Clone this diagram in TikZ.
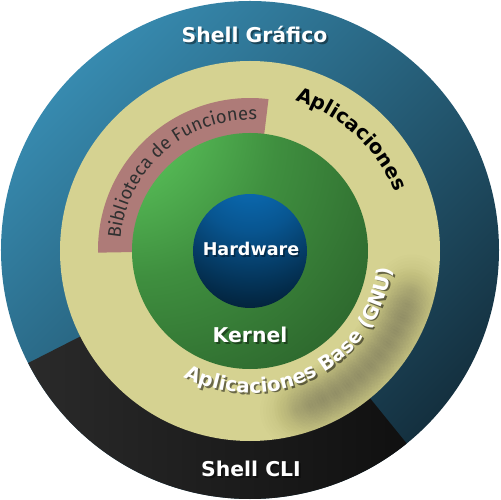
\documentclass[tikz,border=0pt]{standalone}
\usepackage{fontspec}
\setmainfont{DejaVu Sans}
\newfontfamily\bibfam{Fira Sans}
\usetikzlibrary{decorations.text}
\definecolor{blueA}{HTML}{378AAF}
\definecolor{blueB}{HTML}{14303F}
\definecolor{darkA}{HTML}{2A2A2A}
\definecolor{darkB}{HTML}{101010}
\definecolor{ring}{HTML}{D5D291}
\definecolor{band}{HTML}{AE7B78}
\definecolor{bibtext}{HTML}{303030}
\definecolor{gA}{HTML}{62D262}
\definecolor{gB}{HTML}{3F8F3F}
\definecolor{gC}{HTML}{2A602A}
\definecolor{gD}{HTML}{1A3F1A}
\definecolor{gE}{HTML}{0E1E0E}
\definecolor{hA}{HTML}{0B6FB9}
\definecolor{hB}{HTML}{085590}
\definecolor{hC}{HTML}{032A48}
\pgfdeclareradialshading{greensh}{\pgfpoint{-35bp}{35bp}}{color(0bp)=(gA); color(6bp)=(gA); color(30bp)=(gB); color(55bp)=(gC); color(75bp)=(gD); color(100bp)=(gE)}
\pgfdeclareradialshading{hwsh}{\pgfpoint{0bp}{45bp}}{color(0bp)=(hA); color(8bp)=(hA); color(25bp)=(hB); color(45bp)=(hC); color(66bp)=(black); color(100bp)=(black)}
\newcommand\fbib{\bibfam\fontsize{10.5}{12}\selectfont\color{bibtext}}
\newcommand\fap{\fontsize{11.3}{13}\selectfont\bfseries\color{black}}
\newcommand\fapb{\fontsize{11.3}{13}\selectfont\bfseries\color{white}}
\newcommand\fapbs{\fontsize{11.3}{13}\selectfont\bfseries\color{black}}
\begin{document}
\begin{tikzpicture}[x=0.02cm,y=0.02cm,
  lbl/.style={font=\fontsize{11.6}{13}\selectfont\bfseries, text=white, inner sep=0, anchor=base},
  shd/.style={font=\fontsize{11.6}{13}\selectfont\bfseries, text=black, inner sep=0, anchor=base, text opacity=0.4},
  hwlbl/.style={font=\fontsize{10}{12}\selectfont\bfseries, text=white, inner sep=0, anchor=base},
  hwshd/.style={font=\fontsize{10}{12}\selectfont\bfseries, text=black, inner sep=0, anchor=base, text opacity=0.35}]
\useasboundingbox (-250,-250) rectangle (250,250);
% outer shell
\shade[top color=blueA, bottom color=blueB, shading angle=45] (0,0) circle[radius=249];
\shade[left color=darkA, right color=darkB] (0,0) -- (207:249) arc[start angle=207, end angle=309, radius=249] -- cycle;
% applications ring
\fill[ring] (0,-1) circle[radius=190];
\fill[band] (83:152) arc[start angle=83, end angle=181, radius=152] -- (181:105) arc[start angle=181, end angle=83, radius=105] -- cycle;
% soft shadow of the curved label on the ring
\begin{scope}
\clip (0,-1) circle[radius=190];
\foreach \a in {286,291,...,346} {
  \foreach \k in {1,...,12} {
    \fill[black, opacity=0.008] (\a:167) circle[radius=3*\k];
  }
}
\end{scope}
% kernel
\shade[shading=greensh] (0,-1) circle[radius=118];
% hardware
\shade[shading=hwsh] (0,-1) circle[radius=57];
% curved texts
\path[decorate, decoration={text along path, text={|\fbib|Biblioteca de Funciones}, text align=center}]
  (185:130) arc[start angle=185, end angle=77, radius=130];
\path[decorate, decoration={text along path, text={|\fap|Aplicaciones}, text align=center}]
  (82:156) arc[start angle=82, end angle=13, radius=156];
\begin{scope}[shift={(1.8,-1.8)}, opacity=0.5]
\path[decorate, decoration={text along path, text={|\fapbs|Aplicaciones Base (GNU)}, text align=center}]
  (230:143) arc[start angle=230, end angle=365, radius=143];
\end{scope}
\path[decorate, decoration={text along path, text={|\fapb|Aplicaciones Base (GNU)}, text align=center}]
  (230:143) arc[start angle=230, end angle=365, radius=143];
% straight labels
\node[shd] (gs) at (6.5,205) {Shell Gráfico};
\node[lbl] (g) at (4.5,207) {Shell Gráfico};
\node[shd] (cs) at (3,-228) {Shell CLI};
\node[lbl] (c) at (1,-226) {Shell CLI};
\node[hwshd] (hs) at (2.6,-7.6) {Hardware};
\node[hwlbl] (h) at (1,-6) {Hardware};
\node[shd] (ks) at (2,-94) {Kernel};
\node[lbl] (k) at (0,-92) {Kernel};
\end{tikzpicture}
\end{document}
